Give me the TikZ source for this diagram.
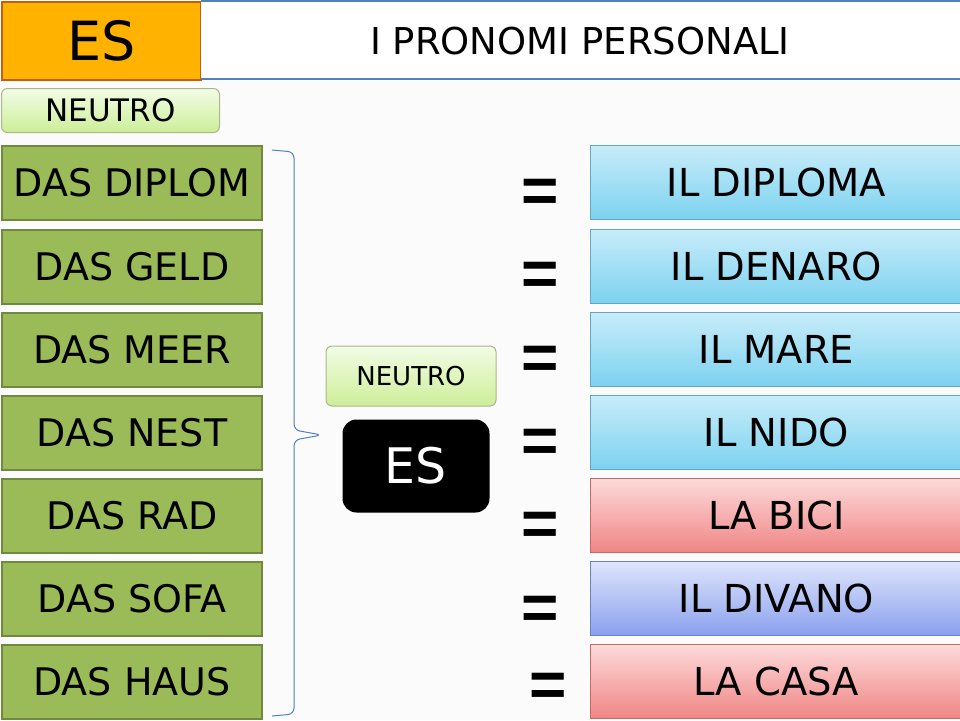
\documentclass[tikz,border=0pt]{standalone}
\usepackage{fontspec}
\setmainfont{DejaVu Sans}
\newfontfamily\eqfont{Liberation Sans}
\definecolor{grn}{HTML}{9BBB59}\definecolor{grnd}{HTML}{71893F}
\definecolor{bluet}{HTML}{C8ECF9}\definecolor{blueb}{HTML}{7CD2F0}
\definecolor{redt}{HTML}{FDDADA}\definecolor{redb}{HTML}{F08585}
\definecolor{purt}{HTML}{DFE5FB}\definecolor{purb}{HTML}{8AA0EE}
\definecolor{orng}{HTML}{FFB300}\definecolor{orngd}{HTML}{C06010}
\definecolor{ttl}{HTML}{4F81BD}
\definecolor{lgt}{HTML}{F2FCE6}\definecolor{lgb}{HTML}{CDEE98}
\tikzset{
 fs/.style={font=\fontsize{#1}{#1}\selectfont},
 gbox/.style={draw=grnd,line width=2pt,fill=grn,minimum width=260,minimum height=74,anchor=north west,fs=38,inner sep=0},
 rbox/.style={draw=#1b!80!black,line width=1pt,top color=#1t,bottom color=#1b,minimum width=372,minimum height=74,anchor=north west,fs=38.5,inner sep=0},
 lgbox/.style={draw=grnd!60,line width=1pt,rounded corners=6,top color=lgt,bottom color=lgb,inner sep=0},
 eqs/.style={font=\eqfont\bfseries\fontsize{64}{64}\selectfont,inner sep=0}
}
\begin{document}
\begin{tikzpicture}[x=1pt,y=-1pt]
\useasboundingbox (0,0) rectangle (960,720);
\fill[white!97!gray] (0,0) rectangle (960,720);
\node[draw=orngd,line width=2pt,fill=orng,minimum width=199,minimum height=78,anchor=north west,fs=54,inner sep=0] (es0) at (1,1) {ES};
\fill[white] (201,2) rectangle (960,78);
\draw[ttl,line width=2pt] (201,1)--(960,1) (201,79)--(960,79);
\node[fs=37] (title) at (580,41) {I PRONOMI PERSONALI};
\node[lgbox,minimum width=218,minimum height=44,anchor=north west,fs=31] (n1) at (1,88) {NEUTRO};
\foreach \y/\t/\n in {145/DAS DIPLOM/1,229/DAS GELD/2,312/DAS MEER/3,395/DAS NEST/4,478/DAS RAD/5,561/DAS SOFA/6,644/DAS HAUS/7}{
 \node[gbox] (l\n) at (1,\y) {\t};
}
\node[rbox=blue] (r1) at (590,145) {IL DIPLOMA};
\node[rbox=blue] (r2) at (590,229) {IL DENARO};
\node[rbox=blue] (r3) at (590,312) {IL MARE};
\node[rbox=blue] (r4) at (590,395) {IL NIDO};
\node[rbox=red] (r5) at (590,478) {LA BICI};
\node[rbox=pur] (r6) at (590,561) {IL DIVANO};
\node[rbox=red] (r7) at (590,644) {LA CASA};
\foreach \y/\n in {196/1,279/2,363/3,446/4,529/5,613/6}{\node[eqs] (e\n) at (540,\y) {=};}
\node[eqs] (e7) at (548,690) {=};
\draw[ttl,line width=1pt,rounded corners=6] (272,150)--(294,152)--(294,430)--(322,435)--(294,440)--(294,714)--(272,716);
\node[lgbox,minimum width=170,minimum height=60,fs=26] (n2) at (411,376) {NEUTRO};
\node[fill=black,rounded corners=14,minimum width=147,minimum height=93,text=white,fs=49,inner sep=0] (es) at (416,466) {ES};
\end{tikzpicture}
\end{document}
